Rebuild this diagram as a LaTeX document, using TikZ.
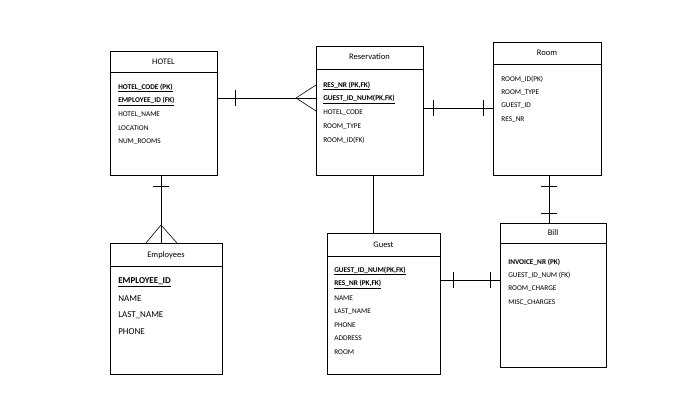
\documentclass[tikz,border=0pt]{standalone}
\usepackage{fontspec}
\setmainfont{Carlito}
\begin{document}
\begin{tikzpicture}[x=1pt,y=-1pt,line width=0.6pt,
  ent/.style={draw,line width=0.8pt},
  ttl/.style={font=\fontsize{8.5}{9}\selectfont},
  attr/.style={anchor=west,inner sep=0pt,font=\fontsize{7.3}{8}\selectfont},
  attrb/.style={anchor=west,inner sep=0pt,font=\fontsize{9}{10}\selectfont}]
\useasboundingbox (0,0) rectangle (700,407);
\newcommand{\kk}[1]{\textbf{\underline{#1}}}
% HOTEL
\draw[ent] (110,51) rectangle (217,175); \draw (110,72) -- (217,72);
\node[ttl] (hotel) at (163.5,62) {HOTEL};
\node[attr] (h1) at (118,88) {\kk{HOTEL\_CODE (PK)}};
\node[attr] (h2) at (118,101.5) {\kk{EMPLOYEE\_ID (FK)}};
\node[attr] (h3) at (118,115) {HOTEL\_NAME};
\node[attr] (h4) at (118,128.5) {LOCATION};
\node[attr] (h5) at (118,142) {NUM\_ROOMS};
% Reservation
\draw[ent] (316,46) rectangle (423,175); \draw (316,69) -- (423,69);
\node[ttl] (res) at (369.5,57) {Reservation};
\node[attr] (r1) at (323,86) {\kk{RES\_NR (PK,FK)}};
\node[attr] (r2) at (323,99.5) {\kk{GUEST\_ID\_NUM(PK,FK)}};
\node[attr] (r3) at (323,113) {HOTEL\_CODE};
\node[attr] (r4) at (323,126.5) {ROOM\_TYPE};
\node[attr] (r5) at (323,140) {ROOM\_ID(FK)};
% Room
\draw[ent] (493,42) rectangle (601,175); \draw (493,64) -- (601,64);
\node[ttl] (room) at (547,53) {Room};
\node[attr] (m1) at (501,79) {ROOM\_ID(PK)};
\node[attr] (m2) at (501,92.5) {ROOM\_TYPE};
\node[attr] (m3) at (501,106) {GUEST\_ID};
\node[attr] (m4) at (501,119.5) {RES\_NR};
% Employees
\draw[ent] (110,243) rectangle (222,374); \draw (110,266) -- (222,266);
\node[ttl] (emp) at (166,255) {Employees};
\node[attrb] (e1) at (118,282) {\kk{EMPLOYEE\_ID}};
\node[attrb] (e2) at (118,298.5) {NAME};
\node[attrb] (e3) at (118,315) {LAST\_NAME};
\node[attrb] (e4) at (118,331.5) {PHONE};
% Guest
\draw[ent] (327,233) rectangle (440,374); \draw (327,256) -- (440,256);
\node[ttl] (guest) at (383.5,245) {Guest};
\node[attr] (g1) at (334,271) {\kk{GUEST\_ID\_NUM(PK,FK)}};
\node[attr] (g2) at (334,284.5) {\kk{RES\_NR (PK,FK)}};
\node[attr] (g3) at (334,298) {NAME};
\node[attr] (g4) at (334,311.5) {LAST\_NAME};
\node[attr] (g5) at (334,325) {PHONE};
\node[attr] (g6) at (334,338.5) {ADDRESS};
\node[attr] (g7) at (334,352) {ROOM};
% Bill
\draw[ent] (500,223) rectangle (606,367); \draw (500,243) -- (606,243);
\node[ttl] (bill) at (553,233) {Bill};
\node[attr] (b1) at (508,262) {\textbf{INVOICE\_NR (PK)}};
\node[attr] (b2) at (508,275.5) {GUEST\_ID\_NUM (FK)};
\node[attr] (b3) at (508,289) {ROOM\_CHARGE};
\node[attr] (b4) at (508,302.5) {MISC\_CHARGES};
% connectors
\draw (217,98) -- (316,98); \draw (235,90) -- (235,106);
\draw (296,98) -- (316,85) (296,98) -- (316,111);
\draw (423,108) -- (493,108); \draw (433,100) -- (433,116) (483,100) -- (483,116);
\draw (161,175) -- (161,243); \draw (153,186) -- (169,186);
\draw (161,225) -- (146,243) (161,225) -- (177,243);
\draw (373,175) -- (373,233);
\draw (549,175) -- (549,223); \draw (541,186) -- (557,186) (541,213) -- (557,213);
\draw (440,280) -- (500,280); \draw (453,272) -- (453,288) (490,272) -- (490,288);
\end{tikzpicture}
\end{document}
